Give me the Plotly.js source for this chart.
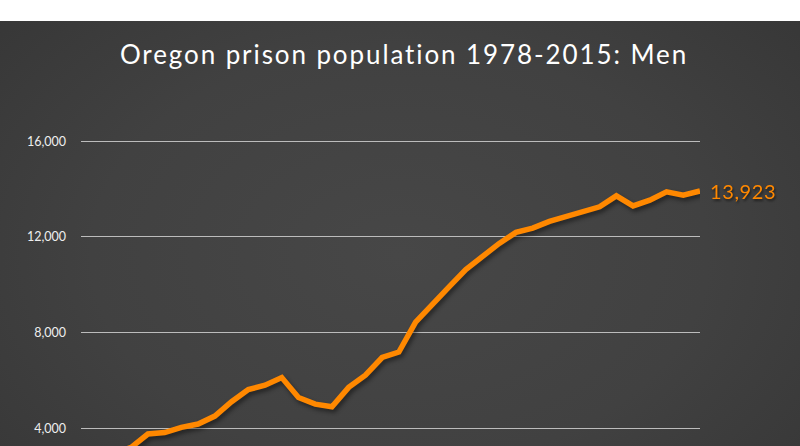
<!DOCTYPE html>
<html>
<head>
<meta charset="utf-8">
<script src="https://cdn.plot.ly/plotly-3.0.1.min.js"></script>
<style>
  html, body { margin: 0; padding: 0; background: #fff; }
  #wrap { position: relative; width: 800px; height: 446px; background: #fff; }
  #bg {
    position: absolute; left: 0; top: 21px; width: 800px; height: 425px;
    background: radial-gradient(ellipse 70% 90% at 50% 55%, #474747 0%, #414141 55%, #363636 100%);
  }
  #chart { position: absolute; left: 0; top: 0; width: 800px; height: 446px; }
  .gtitle { letter-spacing: 1.9px; }
  .scatterlayer .trace path.js-line { filter: drop-shadow(2px 3px 2px rgba(0,0,0,0.45)); }
  .annotation-text { letter-spacing: 0.6px; filter: drop-shadow(1px 2px 1px rgba(0,0,0,0.5)); }
</style>
</head>
<body>
<div id="wrap">
  <div id="bg"></div>
  <div id="chart"></div>
</div>
<script>
// years and male prison population (1978-81 sit below the crop)
var years = [];
for (let y = 1978; y <= 2015; y++) years.push(y);

var men = [2950, 2900, 2950, 3200, 3760, 3820, 4040, 4180, 4510, 5110,
           5620, 5800, 6120, 5290, 5010, 4900, 5710, 6220, 6960, 7190,
           8440, 9210, 9910, 10640, 11180, 11730, 12190, 12370, 12650, 12860,
           13030, 13260, 13720, 13300, 13540, 13890, 13750, 13923];

var yTicks = [4000, 8000, 12000, 16000];
var yTickText = ['4,000', '8,000', '12,000', '16,000'];

var orange = '#ff8800';
var font = 'Lato, "Open Sans", sans-serif';

var trace = {
  x: years,
  y: men,
  type: 'scatter',
  mode: 'lines',
  line: { color: orange, width: 5.5 },
  hoverinfo: 'skip'
};

var last = men[men.length - 1];

var layout = {
  width: 800,
  height: 446,
  margin: { l: 81, r: 100, t: 0, b: 0 },
  paper_bgcolor: 'rgba(0,0,0,0)',
  plot_bgcolor: 'rgba(0,0,0,0)',
  showlegend: false,
  title: {
    text: 'Oregon prison population 1978-2015: Men',
    font: { family: font, size: 26, color: '#ffffff' },
    x: 0.505, xref: 'container', xanchor: 'center',
    y: 1 - 55 / 446, yref: 'container', yanchor: 'middle'
  },
  xaxis: {
    range: [1978, 2015],
    showgrid: false, zeroline: false, showline: false,
    showticklabels: false, ticks: ''
  },
  yaxis: {
    range: [3260, 21908],
    tickvals: yTicks,
    ticktext: yTickText,
    showgrid: true,
    gridcolor: '#bcbcbc',
    gridwidth: 1,
    zeroline: false, showline: false, ticks: '',
    ticklabelstandoff: 14,
    tickfont: { family: font, size: 12.5, color: '#eeeeee' }
  },
  annotations: [{
    x: years[years.length - 1],
    y: last,
    xref: 'x', yref: 'y',
    text: last.toLocaleString('en-US'),
    showarrow: false,
    xanchor: 'left', yanchor: 'middle',
    xshift: 8,
    font: { family: font, size: 20, color: orange }
  }]
};

Plotly.newPlot('chart', [trace], layout, { displayModeBar: false, staticPlot: true });
</script>
</body>
</html>
